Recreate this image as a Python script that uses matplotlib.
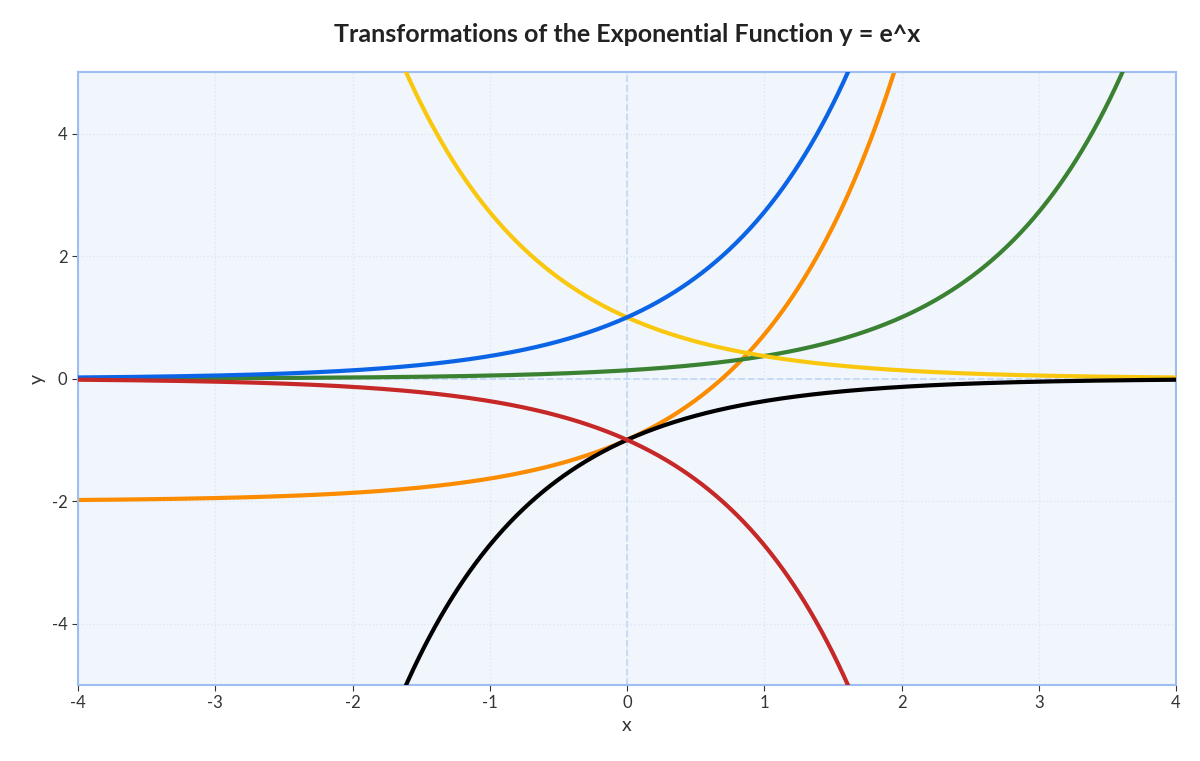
import numpy as np
import matplotlib.pyplot as plt

plt.rcParams['font.family'] = ['Lato', 'DejaVu Sans']
plt.rcParams['axes.unicode_minus'] = False

# y = a * e^(b * (x - h)) + k
names = ['e^x', 'e^-x', '-e^x', '-e^-x', 'e^(x-2)', 'e^x - 2']
a_vals = [1, 1, -1, -1, 1, 1]
b_vals = [1, -1, 1, -1, 1, 1]
h_vals = [0, 0, 0, 0, 2, 0]
k_vals = [0, 0, 0, 0, 0, -2]
colors = ['#0b63e5', '#f9c80e', '#c62828', '#000000', '#3b8132', '#fb8c00']
order = [3, 2, 5, 4, 1, 0]

x = np.linspace(-4, 4, 800)

fig, ax = plt.subplots(figsize=(12, 7.61), dpi=100)
ax.set_facecolor('#f1f6fd')

ax.axhline(0, color='#c5d8f5', lw=1.3, ls='--', zorder=1)
ax.axvline(0, color='#c5d8f5', lw=1.3, ls='--', zorder=1)

for i in range(len(names)):
    y = a_vals[i] * np.exp(b_vals[i] * (x - h_vals[i])) + k_vals[i]
    ax.plot(x, y, color=colors[i], lw=3, zorder=2 + order[i], label=names[i])

ax.set_xlim(-4, 4)
ax.set_ylim(-5, 5)
ax.set_xticks(range(-4, 5))
ax.set_yticks([-4, -2, 0, 2, 4])
ax.grid(True, color='#dde6f3', ls=':', lw=1)
ax.set_axisbelow(True)
for s in ax.spines.values():
    s.set_color('#9ebdf0')
    s.set_linewidth(1.5)
ax.tick_params(colors='#333333', labelsize=12, length=4)
ax.set_xlabel('x', fontsize=14, color='#333333')
ax.set_ylabel('y', fontsize=14, color='#333333')
ax.set_title('Transformations of the Exponential Function y = e^x',
             fontsize=18, fontweight='bold', color='#222222', pad=22)

plt.subplots_adjust(left=0.065, right=0.98, top=0.905, bottom=0.1)
fig.savefig('out.png')
